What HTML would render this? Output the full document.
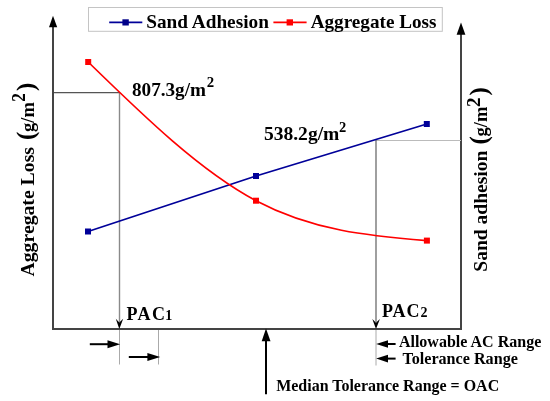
<!DOCTYPE html>
<html><head><meta charset="utf-8">
<style>
html,body{margin:0;padding:0;background:#fff;}
body{width:550px;height:401px;overflow:hidden;}
svg{display:block;filter:blur(0.4px);}
text{font-family:"Liberation Serif","Times New Roman",serif;font-weight:bold;fill:#000;}
</style></head><body>
<svg width="550" height="401" viewBox="0 0 550 401">
<!-- legend -->
<rect x="88.5" y="7.5" width="353.8" height="23.8" fill="#fff" stroke="#c4c4c4" stroke-width="1"/>
<line x1="109.2" y1="22.4" x2="142.3" y2="22.4" stroke="#000099" stroke-width="1.6"/>
<rect x="122.4" y="19.3" width="6.4" height="6.2" fill="#000088"/>
<text x="146.2" y="27.6" font-size="19" textLength="122.7" lengthAdjust="spacingAndGlyphs">Sand Adhesion</text>
<line x1="273.4" y1="22.4" x2="306.6" y2="22.4" stroke="#ff0000" stroke-width="1.6"/>
<rect x="286.6" y="19.3" width="6.4" height="6.2" fill="#ff0000"/>
<text x="310.7" y="27.6" font-size="19" textLength="125.8" lengthAdjust="spacingAndGlyphs">Aggregate Loss</text>

<!-- axes -->
<line x1="53" y1="26" x2="53" y2="330" stroke="#444" stroke-width="2"/>
<polygon points="53,15.8 49,27.3 57.2,27.3" fill="#000"/>
<line x1="52" y1="329" x2="462" y2="329" stroke="#444" stroke-width="2"/>
<line x1="461" y1="33" x2="461" y2="330" stroke="#444" stroke-width="2"/>
<polygon points="461,22.4 456.6,34.8 465.4,34.8" fill="#000"/>

<!-- reference lines -->
<line x1="54" y1="92.6" x2="119.5" y2="92.6" stroke="#555" stroke-width="1.4"/>
<line x1="119.5" y1="92.5" x2="119.5" y2="322" stroke="#8a8a8a" stroke-width="1.4"/>
<path d="M119.3 329 L115.8 318.8 L119.3 322.6 L123.2 318.8 Z" fill="#000"/>
<line x1="376" y1="140.5" x2="461" y2="140.5" stroke="#bbb" stroke-width="1"/>
<line x1="376" y1="140" x2="376" y2="322" stroke="#777" stroke-width="1.4"/>
<path d="M376 329 L372.3 319 L376 322.8 L379.9 319 Z" fill="#000"/>

<!-- below axis -->
<line x1="119.5" y1="330" x2="119.5" y2="364.5" stroke="#aaa" stroke-width="1"/>
<line x1="158.5" y1="330" x2="158.5" y2="364.5" stroke="#aaa" stroke-width="1"/>
<line x1="376" y1="330" x2="376" y2="365.5" stroke="#aaa" stroke-width="1"/>
<line x1="89.8" y1="344.2" x2="110" y2="344.2" stroke="#000" stroke-width="2"/>
<polygon points="120.1,344.2 107.5,340.2 107.5,348.2" fill="#000"/>
<line x1="128.8" y1="357" x2="150" y2="357" stroke="#000" stroke-width="2"/>
<polygon points="160.2,357 147.4,353 147.4,361" fill="#000"/>
<line x1="386" y1="344" x2="395.6" y2="344" stroke="#000" stroke-width="2"/>
<polygon points="376.2,344 388,340.2 388,347.8" fill="#000"/>
<line x1="386" y1="358.6" x2="395.6" y2="358.6" stroke="#000" stroke-width="2"/>
<polygon points="376.2,358.6 388,354.8 388,362.4" fill="#000"/>
<line x1="266" y1="340" x2="266" y2="394.3" stroke="#000" stroke-width="2"/>
<polygon points="266,328.6 261.7,341.2 270.5,341.2" fill="#000"/>

<!-- data -->
<polyline points="88,231.5 256,176 426.8,124" fill="none" stroke="#000099" stroke-width="1.8"/>
<path d="M88.2 62.0 C144.1 116.5 200.1 170.9 256.0 200.7 C313.0 231.0 369.9 235.8 426.9 240.6" fill="none" stroke="#ff0000" stroke-width="1.7"/>
<rect x="85" y="228.5" width="6" height="6" fill="#000099"/>
<rect x="253" y="173" width="6" height="6" fill="#000099"/>
<rect x="423.8" y="121" width="6" height="6" fill="#000099"/>
<rect x="85.2" y="59" width="6" height="6" fill="#ff0000"/>
<rect x="253" y="197.7" width="6" height="6" fill="#ff0000"/>
<rect x="423.9" y="237.6" width="6" height="6" fill="#ff0000"/>

<!-- annotations -->
<text x="132" y="95.8" font-size="19" textLength="74" lengthAdjust="spacingAndGlyphs">807.3g/m</text>
<text x="206.7" y="87.2" font-size="14.8">2</text>
<text x="263.9" y="140.4" font-size="19" textLength="75.5" lengthAdjust="spacingAndGlyphs">538.2g/m</text>
<text x="339" y="132.4" font-size="14.5">2</text>
<text x="126.5" y="319.5" font-size="18" textLength="38.5" lengthAdjust="spacing">PAC</text>
<text x="165.3" y="319.5" font-size="14">1</text>
<text x="382" y="316.6" font-size="18" textLength="37.5" lengthAdjust="spacing">PAC</text>
<text x="420.4" y="316.6" font-size="14">2</text>
<text x="398.9" y="346.9" font-size="16" textLength="142.4" lengthAdjust="spacingAndGlyphs">Allowable AC Range</text>
<text x="402.4" y="364.1" font-size="16" textLength="115.5" lengthAdjust="spacingAndGlyphs">Tolerance Range</text>
<text x="276.2" y="390.7" font-size="16" textLength="223" lengthAdjust="spacingAndGlyphs">Median Tolerance Range = OAC</text>

<!-- axis titles -->
<g transform="rotate(-90)">
<text x="-276.5" y="33.7" font-size="18.5" textLength="129.5" lengthAdjust="spacingAndGlyphs">Aggregate Loss</text>
<text x="-140" y="34.4" font-size="25" font-weight="normal">(</text>
<text x="-132" y="33.7" font-size="18.5">g/m</text>
<text x="-101.8" y="25.4" font-size="18" textLength="8.6" lengthAdjust="spacingAndGlyphs">2</text>
<text x="-91" y="34.4" font-size="25" font-weight="normal">)</text>
</g>
<g transform="rotate(-90)">
<text x="-271.7" y="487" font-size="18.5" textLength="121" lengthAdjust="spacingAndGlyphs">Sand adhesion</text>
<text x="-144.5" y="487.4" font-size="25" font-weight="normal">(</text>
<text x="-136.5" y="487" font-size="18.5">g/m</text>
<text x="-107" y="480" font-size="18" textLength="9.6" lengthAdjust="spacingAndGlyphs">2</text>
<text x="-95.5" y="487.4" font-size="25" font-weight="normal">)</text>
</g>
</svg>
</body></html>
